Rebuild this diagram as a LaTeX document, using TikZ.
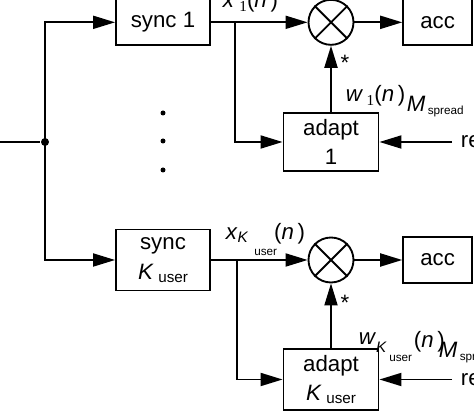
\documentclass[tikz,border=0pt]{standalone}
\usepackage{fontspec}
\setmainfont{Liberation Sans}
\newfontfamily\seriff{Liberation Serif}
\usepackage{tikz}
\usetikzlibrary{arrows.meta, positioning, calc}

\newcommand{\bigtxt}{\fontsize{19}{25}\selectfont}
\newcommand{\midtxt}{\fontsize{13}{15}\selectfont}
\newcommand{\smalltxt}{\fontsize{10}{12}\selectfont}

\tikzset{
    blk/.style={draw, rectangle, inner sep=0pt, align=center},
    mixer/.style={draw, circle, minimum size=1.35cm, inner sep=0pt},
    lab/.style={anchor=base west, inner sep=0pt},
}

\begin{document}
\begin{tikzpicture}[>={Triangle[length=0.66cm,width=0.39cm]}, line width=1.6pt, font=\bigtxt]
    \useasboundingbox (0,0) rectangle (14.22,12.33);

    % Input and splitting point
    \coordinate (in) at (0, 8.07);
    \node (junc) [circle, fill, inner sep=0pt, minimum size=0.24cm] at (1.35, 8.07) {};
    \draw (in) -- (junc);

    % First user
    \node (sync1) [blk, minimum width=2.82cm, minimum height=1.38cm] at (4.89, 11.66) {sync 1};
    \node (mul1) [mixer] at (9.93, 11.66) {};
    \draw (mul1.north west) -- (mul1.south east) (mul1.north east) -- (mul1.south west);
    \node (acc1) [blk, minimum width=2.07cm, minimum height=1.38cm] at (13.13, 11.66) {acc};
    \node (adapt1) [blk, minimum width=2.85cm, minimum height=1.74cm] at (9.93, 8.07) {adapt\\1};
    \node (ref1) [anchor=west, inner xsep=0.24cm, inner ysep=0pt] at (13.56, 8.07) {re};
    \coordinate (br1) at (7.05, 11.66);

    \draw[->] (junc.center) |- (sync1);
    \draw[->] (sync1) -- (mul1);
    \draw[->] (br1) |- (adapt1);
    \draw[->] (adapt1) -- (mul1);
    \draw[->] (mul1) -- (acc1);
    \draw[->] (ref1) -- (adapt1);

    \node (star1) [anchor=north, inner sep=0pt] at (10.35, 10.71) {*};
    \node (x1lab) [lab] at (6.66, 12.09) {\textit{x}\hspace{4pt}\raisebox{-3pt}{\seriff\midtxt 1}(\textit{n}\,)};
    \node (w1lab) [lab] at (10.35, 9.27) {\textit{w}\hspace{3pt}\raisebox{-3pt}{\seriff\midtxt 1}(\textit{n}\,)};
    \node (m1lab) [lab] at (12.18, 8.97) {\textit{M}\hspace{2pt}\raisebox{-2.5pt}{\smalltxt spread}};

    % Dots between users
    \foreach \y in {8.94, 8.10, 7.23}
        \fill (4.89, \y) circle (0.075);

    % Last user
    \node (syncK) [blk, minimum width=2.82cm, minimum height=1.83cm] at (4.89, 4.53) {sync\\\textit{K}\hspace{4pt}\raisebox{-2.5pt}{\midtxt user}};
    \node (mulK) [mixer] at (9.93, 4.53) {};
    \draw (mulK.north west) -- (mulK.south east) (mulK.north east) -- (mulK.south west);
    \node (accK) [blk, minimum width=2.07cm, minimum height=1.38cm] at (13.13, 4.53) {acc};
    \node (adaptK) [blk, minimum width=2.85cm, minimum height=1.83cm] at (9.93, 0.945) {adapt\\\textit{K}\hspace{4pt}\raisebox{-2.5pt}{\midtxt user}};
    \node (refK) [anchor=west, inner xsep=0.24cm, inner ysep=0pt] at (13.56, 0.945) {re};
    \coordinate (brK) at (7.11, 4.53);

    \draw[->] (junc.center) |- (syncK);
    \draw[->] (syncK) -- (mulK);
    \draw[->] (brK) |- (adaptK);
    \draw[->] (adaptK) -- (mulK);
    \draw[->] (mulK) -- (accK);
    \draw[->] (refK) -- (adaptK);

    \node (starK) [anchor=north, inner sep=0pt] at (10.35, 3.51) {*};
    \node (xKlab) [lab] at (6.75, 5.13) {\textit{x}\raisebox{-2.5pt}{\midtxt\textit{K}}\makebox[0pt][l]{\hspace{5pt}\raisebox{-13pt}{\smalltxt user}}\hspace{22pt}(\textit{n}\,)};
    \node (wKlab) [lab] at (10.74, 1.98) {\textit{w}\raisebox{-6pt}{\midtxt\textit{K}}\makebox[0pt][l]{\hspace{2pt}\raisebox{-14.5pt}{\smalltxt user}}\hspace{23pt}\raisebox{-2.5pt}{(\textit{n}\,)}};
    \node (mKlab) [lab] at (13.14, 1.59) {\textit{M}\hspace{2pt}\raisebox{-2.5pt}{\smalltxt spr}};
\end{tikzpicture}
\end{document}
